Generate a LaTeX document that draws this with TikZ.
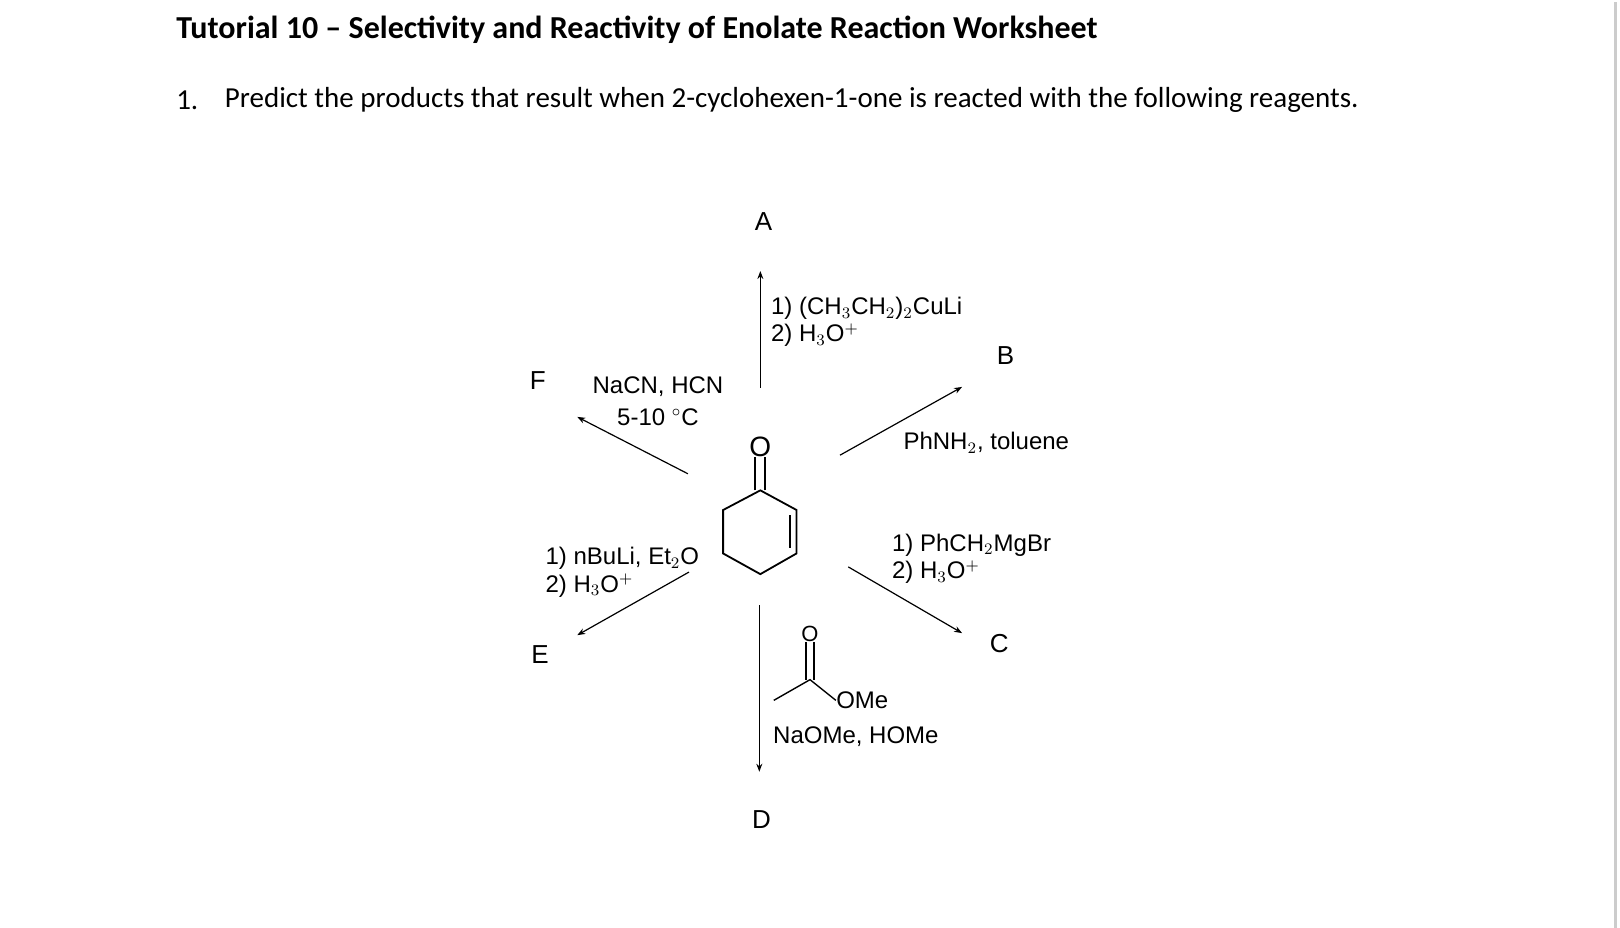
\documentclass[tikz,border=0pt]{standalone}
\usepackage{fontspec}
\setmainfont{Liberation Sans}
\newfontfamily\calfont{Carlito}
\usetikzlibrary{arrows.meta,calc}
\begin{document}
\begin{tikzpicture}[x=0.5172pt,y=-0.5172pt,
  rx/.style={line width=0.6pt,-{Stealth[length=4pt,width=3pt]}},
  bd/.style={line width=0.9pt},
  lbl/.style={font=\fontsize{12}{14}\selectfont,inner sep=0pt},
  let/.style={font=\fontsize{13}{15}\selectfont,inner sep=0pt}]
\useasboundingbox (0,0) rectangle (1566,897);
\fill[white] (0,0) rectangle (1566,897);
\draw[black!20,line width=1.5pt] (1562,2) -- (1562,897);
\node[anchor=west,inner sep=0pt,font=\calfont\bfseries\fontsize{16}{19}\selectfont] (title) at (170,29) {Tutorial 10 – Selectivity and Reactivity of Enolate Reaction Worksheet};
\node[anchor=west,inner sep=0pt,font=\calfont\fontsize{14.5}{17}\selectfont] (num) at (170,97) {1.};
\node[anchor=west,inner sep=0pt,font=\calfont\fontsize{14.5}{17}\selectfont] (q) at (217,97) {Predict the products that result when 2-cyclohexen-1-one is reacted with the following reagents.};
% ring
\coordinate (r1) at (735,474); \coordinate (r2) at (770,493); \coordinate (r3) at (770,535);
\coordinate (r4) at (735,555); \coordinate (r5) at (699,535); \coordinate (r6) at (699,493);
\node[let,font=\fontsize{14}{16}\selectfont] (O) at (735,432) {O};
\draw[bd] (r1)--(r2)--(r3)--(r4)--(r5)--(r6)--cycle;
\draw[bd] ($(r2)+(-6,5)$) -- ($(r3)+(-6,-5)$);
\draw[bd] ([xshift=-2.5]r1) -- ([xshift=-2.5]O.south);
\draw[bd] ([xshift=2.5]r1) -- ([xshift=2.5]O.south);
% A
\node[let] (A) at (738,214) {A};
\coordinate (a0) at (735,375); \coordinate (a1) at (735,262);
\draw[rx] (a0) -- (a1);
\node[lbl,anchor=west] (la1) at (745,298) {1) (CH$_3$CH$_2$)$_2$CuLi};
\node[lbl,anchor=west] (la2) at (745,324) {2) H$_3$O$^+$};
% B
\node[let] (B) at (972,344) {B};
\coordinate (b0) at (812,440); \coordinate (b1) at (930,374);
\draw[rx] (b0) -- (b1);
\node[lbl,anchor=west] (lb) at (873,428) {PhNH$_2$, toluene};
% C
\node[let] (C) at (966,622) {C};
\coordinate (c0) at (820,548); \coordinate (c1) at (930,612);
\draw[rx] (c0) -- (c1);
\node[lbl,anchor=west] (lc1) at (862,527) {1) PhCH$_2$MgBr};
\node[lbl,anchor=west] (lc2) at (862,553) {2) H$_3$O$^+$};
% D
\node[let] (D) at (736,792) {D};
\coordinate (d0) at (734,585); \coordinate (d1) at (734,746);
\draw[rx] (d0) -- (d1);
\node[lbl,font=\fontsize{11}{13}\selectfont] (eO) at (783,613) {O};
\coordinate (eC) at (783,657); \coordinate (eM) at (748,677);
\node[lbl,anchor=west] (OMe) at (808,677) {OMe};
\draw[line width=0.7pt] (eM) -- (eC) -- (OMe.west);
\draw[line width=0.7pt] ([xshift=-2]eC) -- ([xshift=-2]eO.south);
\draw[line width=0.7pt] ([xshift=2]eC) -- ([xshift=2]eO.south);
\node[lbl,anchor=west] (ld) at (747,712) {NaOMe, HOMe};
% E
\node[let] (E) at (522,633) {E};
\coordinate (e0) at (666,553); \coordinate (e1) at (558,614);
\draw[rx] (e0) -- (e1);
\node[lbl,anchor=west] (le1) at (527,540) {1) nBuLi, Et$_2$O};
\node[lbl,anchor=west] (le2) at (527,566) {2) H$_3$O$^+$};
% F
\node[let] (F) at (520,368) {F};
\coordinate (f0) at (665,458); \coordinate (f1) at (558,403);
\draw[rx] (f0) -- (f1);
\node[lbl] (lf1) at (636,374) {NaCN, HCN};
\node[lbl] (lf2) at (636,403) {5-10 $^\circ$C};
\end{tikzpicture}
\end{document}
